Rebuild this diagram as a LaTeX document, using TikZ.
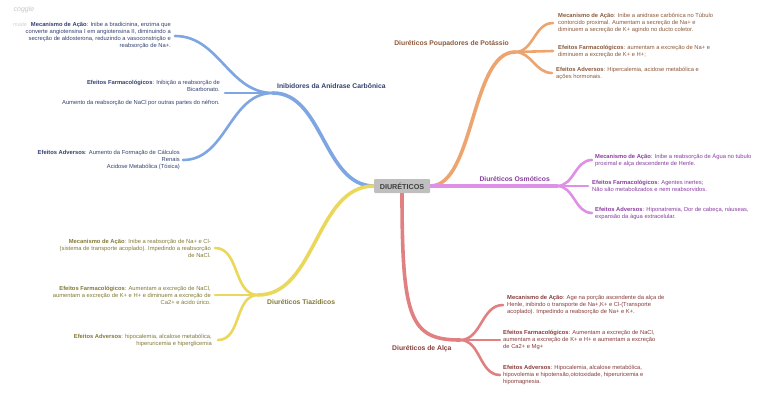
\documentclass[tikz,border=0pt]{standalone}
\usepackage{fontspec}
\setmainfont{Liberation Sans}
\usetikzlibrary{positioning,backgrounds}
\definecolor{rootgray}{RGB}{191,191,191}
\definecolor{icablue}{RGB}{125,166,226}
\definecolor{icatext}{RGB}{50,64,112}
\definecolor{kpsorange}{RGB}{237,165,111}
\definecolor{kpstext}{RGB}{138,88,58}
\definecolor{osmpurple}{RGB}{222,143,230}
\definecolor{osmtext}{RGB}{136,60,158}
\definecolor{alcred}{RGB}{224,128,128}
\definecolor{alctext}{RGB}{136,58,58}
\definecolor{tiayellow}{RGB}{234,216,92}
\definecolor{tiatext}{RGB}{130,120,52}

\begin{document}
\begin{tikzpicture}[x=1pt,y=-1pt,
    every node/.style={font=\fontsize{5.8}{7}\selectfont,inner sep=0pt},
    branch/.style={line width=3.6pt,line cap=round},
    twig/.style={line width=2.6pt,line cap=round},
    title/.style={font=\fontsize{6.8}{8}\selectfont\bfseries}]
  \useasboundingbox (0,0) rectangle (768,401);

  % watermark
  \node[text=gray!45,font=\fontsize{7}{8}\selectfont\itshape] (mark) at (24,10) {coggle};
  \node[text=gray!35,font=\fontsize{5.5}{7}\selectfont,anchor=west] (made) at (13,25) {made};

  \node[fill=rootgray,rounded corners=1pt,minimum width=56pt,minimum height=14pt,
        text=black!75,font=\fontsize{7.2}{8}\selectfont\bfseries] (root) at (402,186) {DIURÉTICOS};

  % hubs and branch ends
  \coordinate (icahub) at (273,93);
  \coordinate (ica1e) at (175,36);
  \coordinate (ica2e) at (225,93);
  \coordinate (ica3e) at (183,160);
  \coordinate (kpshub) at (515,52);
  \coordinate (kps1e) at (553,23);
  \coordinate (kps2e) at (553,51);
  \coordinate (kps3e) at (552,73);
  \coordinate (osmhub) at (557,186);
  \coordinate (osm1e) at (592,160);
  \coordinate (osm2e) at (588,186);
  \coordinate (osm3e) at (592,213);
  \coordinate (alchub) at (460,340);
  \coordinate (alc1e) at (503,305);
  \coordinate (alc2e) at (500,340);
  \coordinate (alc3e) at (500,375);
  \coordinate (tiahub) at (258,295);
  \coordinate (tia1e) at (215,248);
  \coordinate (tia2e) at (215,295);
  \coordinate (tia3e) at (218,340);

  % Inibidores da Anidrase Carbonica
  \node[title,text=icatext,anchor=base west] (ica) at (277,88.5) {Inibidores da Anidrase Carbônica};
  \node[left=4pt of ica1e,align=right,text=icatext] (ica1)
       {\textbf{Mecanismo de Ação}: Inibe a bradicinina, enzima que\\
        converte angiotensina I em angiotensina II, diminuindo a\\
        secreção de aldosterona, reduzindo a vasoconstrição e\\
        reabsorção de Na+.};
  \node[left=5pt of ica2e,align=right,text=icatext] (ica2)
       {\textbf{Efeitos Farmacológicos}: Inibição a reabsorção de\\
        Bicarbonato.\\[6pt]
        Aumento da reabsorção de NaCl por outras partes do néfron.};
  \node[left=3pt of ica3e,align=right,text=icatext] (ica3)
       {\textbf{Efeitos Adversos}: Aumento da Formação de Cálculos\\
        Renais\\
        Acidose Metabólica (Tóxica)};

  % Diureticos Poupadores de Potassio
  \node[title,text=kpstext,anchor=base east] (kps) at (509,45.5) {Diuréticos Poupadores de Potássio};
  \node[right=5pt of kps1e,align=left,text=kpstext] (kps1)
       {\textbf{Mecanismo de Ação}: Inibe a anidrase carbônica no Túbulo\\
        contorcido proximal. Aumentam a secreção de Na+ e\\
        diminuem a secreção de K+ agindo no ducto coletor.};
  \node[right=5pt of kps2e,align=left,text=kpstext] (kps2)
       {\textbf{Efeitos Farmacológicos}: aumentam a excreção de Na+ e\\
        diminuem a excreção de K+ e H+;};
  \node[right=4pt of kps3e,align=left,text=kpstext] (kps3)
       {\textbf{Efeitos Adversos}: Hipercalemia, acidose metabólica e\\
        ações hormonais.};

  % Diureticos Osmoticos
  \node[title,text=osmtext,anchor=base east] (osm) at (550,181.5) {Diuréticos Osmóticos};
  \node[right=3pt of osm1e,align=left,text=osmtext] (osm1)
       {\textbf{Mecanismo de Ação}: Inibe a reabsorção de Água no tubulo\\
        proximal e alça descendente de Henle.};
  \node[right=4pt of osm2e,align=left,text=osmtext] (osm2)
       {\textbf{Efeitos Farmacológicos}: Agentes inertes;\\
        Não são metabolizados e nem reabsorvidos.};
  \node[right=3pt of osm3e,align=left,text=osmtext] (osm3)
       {\textbf{Efeitos Adversos}: Hiponatremia, Dor de cabeça, náuseas,\\
        expansão da água extracelular.};

  % Diureticos de Alca
  \node[title,text=alctext,anchor=base west] (alc) at (392,350.5) {Diuréticos de Alça};
  \node[right=4pt of alc1e,align=left,text=alctext] (alc1)
       {\textbf{Mecanismo de Ação}: Age na porção ascendente da alça de\\
        Henle, inibindo o transporte de Na+,K+ e Cl-(Transporte\\
        acoplado). Impedindo a reabsorção de Na+ e K+.};
  \node[right=3pt of alc2e,align=left,text=alctext] (alc2)
       {\textbf{Efeitos Farmacológicos}: Aumentam a excreção de NaCl,\\
        aumentam a excreção de K+ e H+ e aumentam a excreção\\
        de Ca2+ e Mg+};
  \node[right=3pt of alc3e,align=left,text=alctext] (alc3)
       {\textbf{Efeitos Adversos}: Hipocalemia, alcalose metabólica,\\
        hipovolemia e hipotensão,ototoxidade, hiperuricemia e\\
        hipomagnesia.};

  % Diureticos Tiazidicos
  \node[title,text=tiatext,anchor=base west] (tia) at (267,304.5) {Diuréticos Tiazídicos};
  \node[left=4pt of tia1e,align=right,text=tiatext] (tia1)
       {\textbf{Mecanismo de Ação}: Inibe a reabsorção de Na+ e Cl-\\
        (sistema de transporte acoplado). Impedindo a reabsorção\\
        de NaCl.};
  \node[left=4pt of tia2e,align=right,text=tiatext] (tia2)
       {\textbf{Efeitos Farmacológicos}: Aumentam a excreção de NaCl,\\
        aumentam a excreção de K+ e H+ e diminuem a excreção de\\
        Ca2+ e ácido úrico.};
  \node[left=6pt of tia3e,align=right,text=tiatext] (tia3)
       {\textbf{Efeitos Adversos}: hipocalemia, alcalose metabólica,\\
        hiperuricemia e hiperglicemia};

  \begin{scope}[on background layer]
    % main branches
    \draw[branch,icablue] (root.west) .. controls +(-50,0) and +(50,0) .. (icahub);
    \draw[branch,tiayellow] (root.west) .. controls +(-58,0) and +(58,0) .. (tiahub);
    \draw[branch,kpsorange] (root.east) .. controls +(44,0) and +(-44,0) .. (kpshub);
    \draw[branch,osmpurple] (root.east) -- (osmhub);
    \draw[branch,alcred] (root.south) .. controls +(0,125) and +(-50,0) .. (alchub);
    % twigs
    \draw[twig,icablue] (icahub) to[out=180,in=0] (ica1e);
    \draw[twig,icablue] (icahub) -- (ica2e);
    \draw[twig,icablue] (icahub) to[out=180,in=0] (ica3e);
    \draw[twig,kpsorange] (kpshub) to[out=0,in=180] (kps1e);
    \draw[twig,kpsorange] (kpshub) -- (kps2e);
    \draw[twig,kpsorange] (kpshub) to[out=0,in=180] (kps3e);
    \draw[twig,osmpurple] (osmhub) to[out=0,in=180] (osm1e);
    \draw[twig,osmpurple] (osmhub) -- (osm2e);
    \draw[twig,osmpurple] (osmhub) to[out=0,in=180] (osm3e);
    \draw[twig,alcred] (alchub) to[out=0,in=180] (alc1e);
    \draw[twig,alcred] (alchub) -- (alc2e);
    \draw[twig,alcred] (alchub) to[out=0,in=180] (alc3e);
    \draw[twig,tiayellow] (tiahub) to[out=180,in=0] (tia1e);
    \draw[twig,tiayellow] (tiahub) -- (tia2e);
    \draw[twig,tiayellow] (tiahub) to[out=180,in=0] (tia3e);
  \end{scope}
\end{tikzpicture}
\end{document}
